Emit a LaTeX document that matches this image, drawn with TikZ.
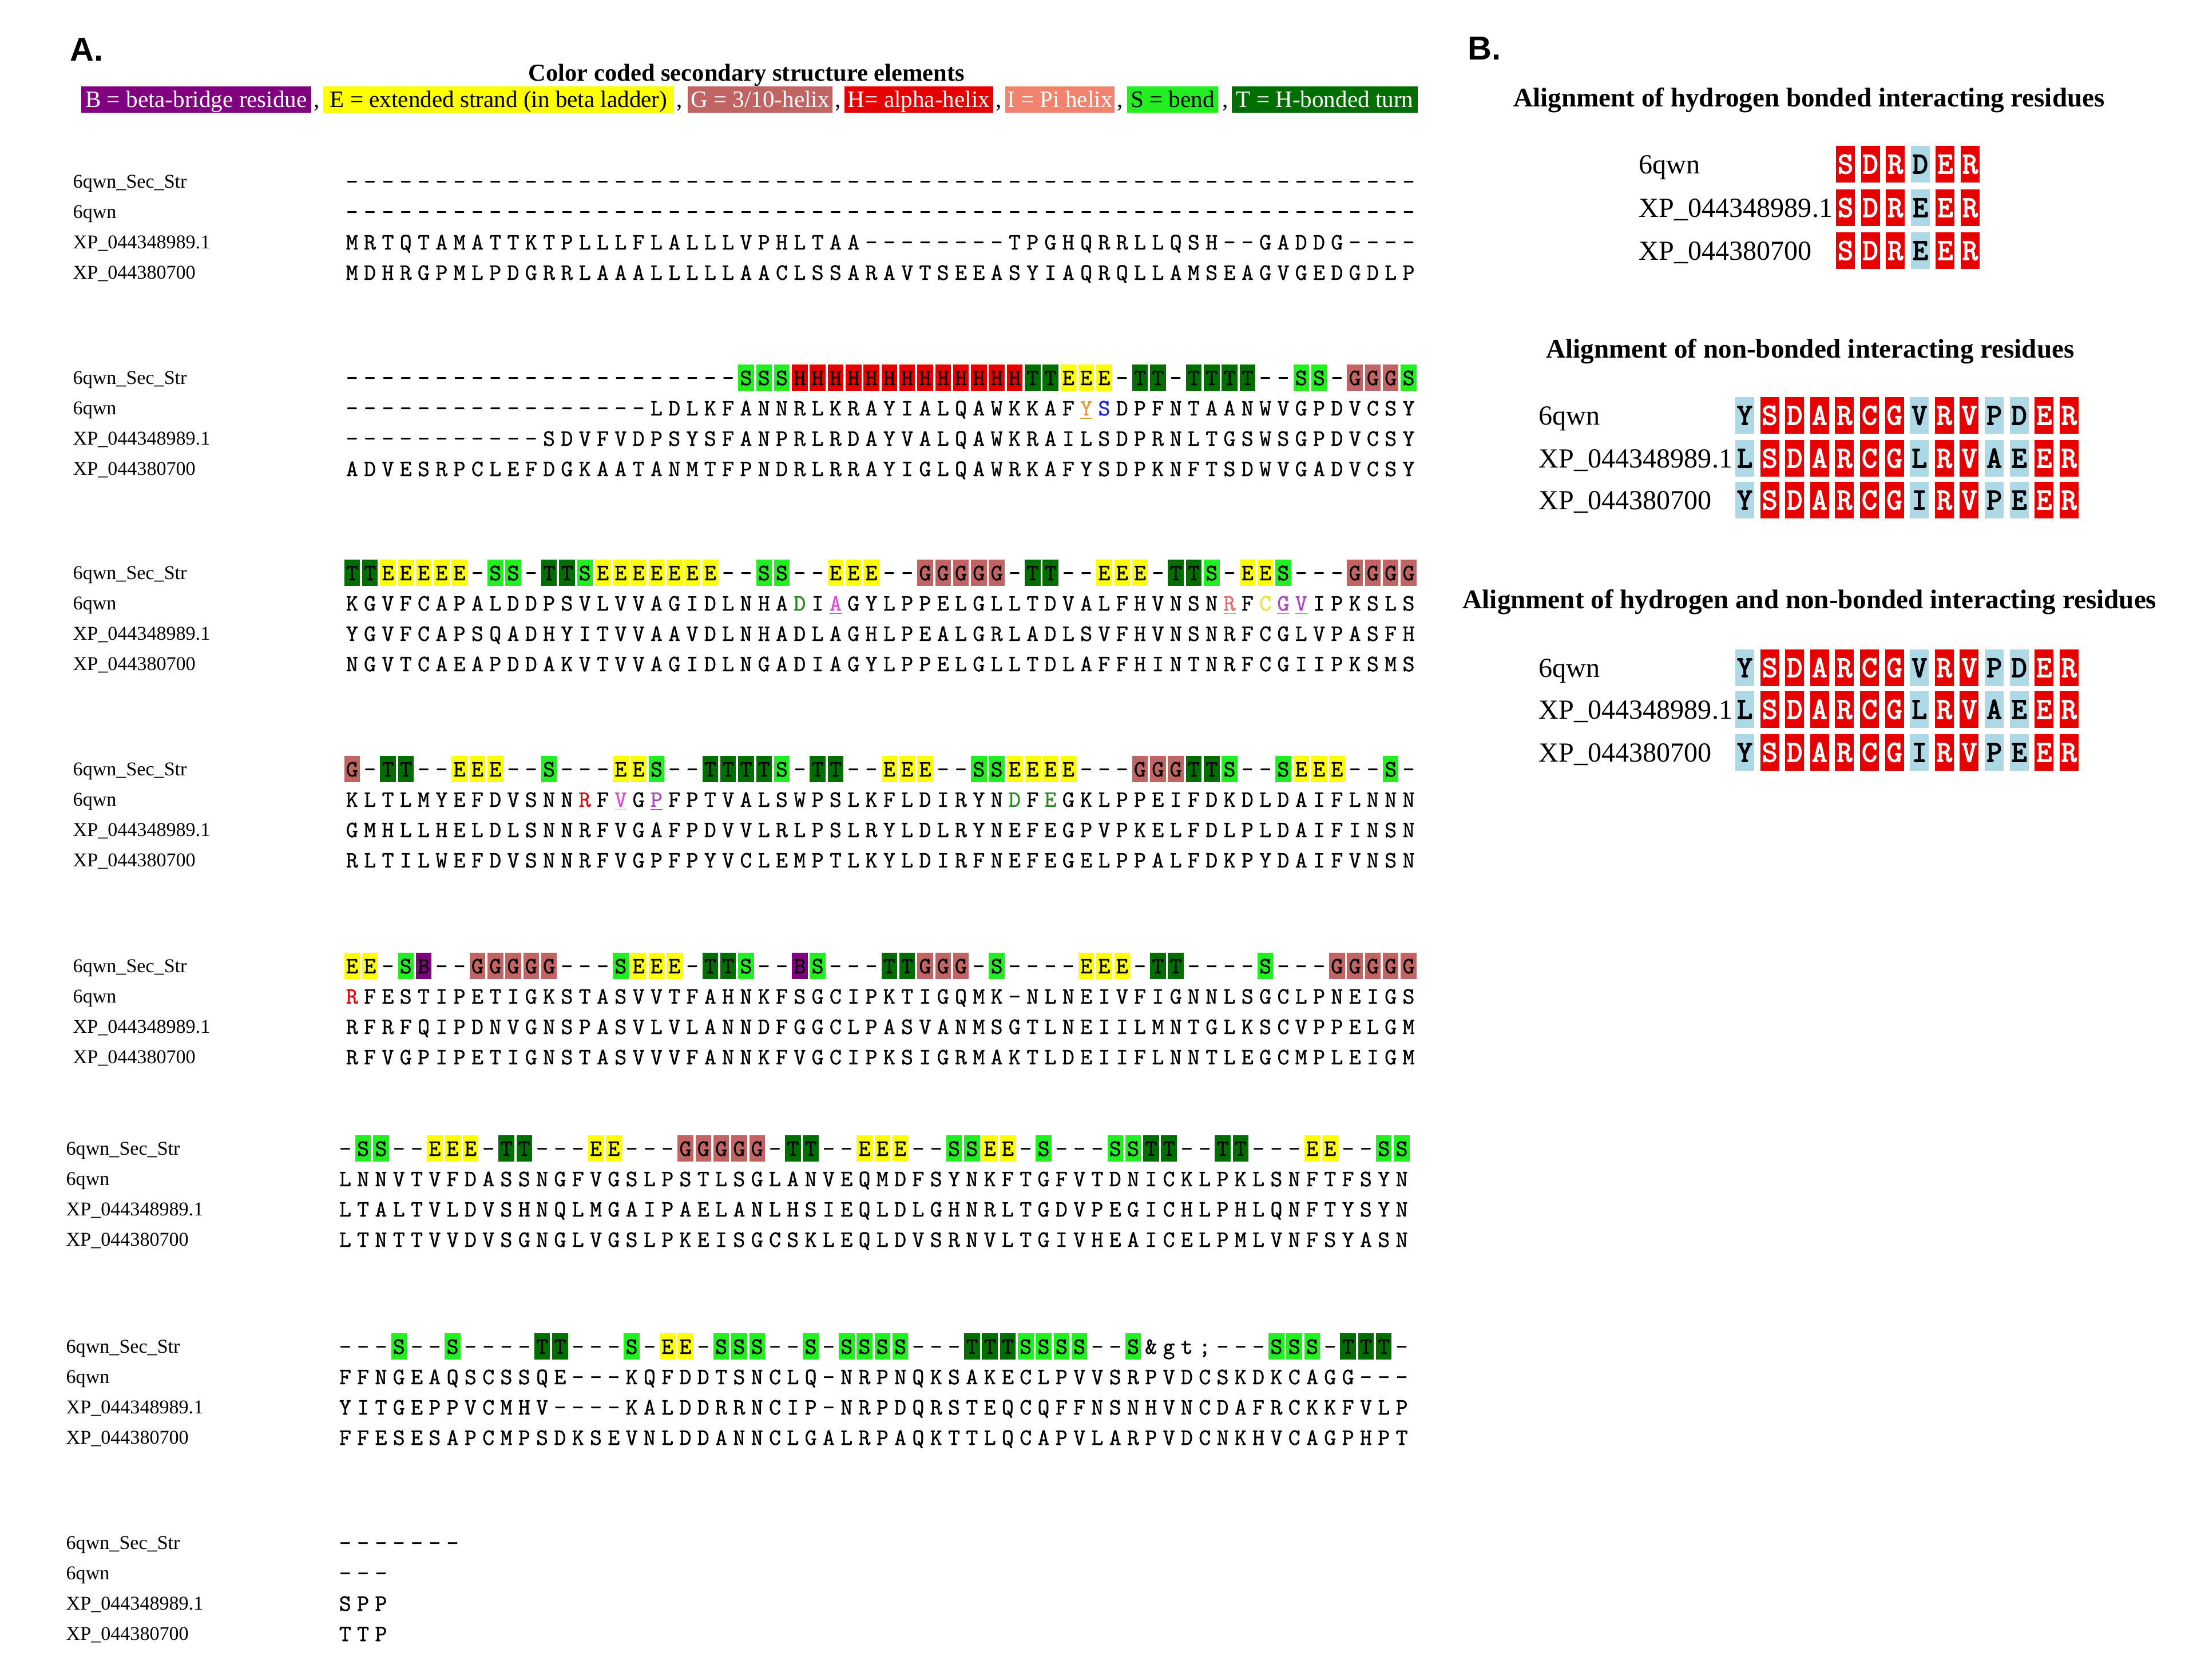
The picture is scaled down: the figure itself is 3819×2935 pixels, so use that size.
\documentclass[tikz,border=0pt]{standalone}
\usepackage{fontspec}
\setmainfont{Liberation Serif}
\newfontfamily\seqfont{Latin Modern Mono}[FakeBold = 1]
\newfontfamily\cellfont{Latin Modern Mono}[FakeBold = 3]
\newfontfamily\panelfont{Liberation Sans}
\usepackage{xcolor}
\usepackage{tikz}
\usetikzlibrary{
		positioning
	}
% secondary structure colours
\definecolor{ss-B}{HTML}{800080}
\definecolor{ss-E}{HTML}{FFFF00}
\definecolor{ss-G}{HTML}{C06464}
\definecolor{ss-H}{HTML}{E60000}
\definecolor{ss-I}{HTML}{F0826E}
\definecolor{ss-S}{HTML}{22EE22}
\definecolor{ss-T}{HTML}{006E00}
% interacting residue colours
\definecolor{cell-red}{HTML}{E60000}
\definecolor{cell-blue}{HTML}{ADD8E6}
\definecolor{res-orange}{HTML}{E39A3B}
\definecolor{res-blue}{HTML}{1F1FCC}
\definecolor{res-pink}{HTML}{E048D8}
\definecolor{res-purple}{HTML}{A848B8}
\definecolor{res-salmon}{HTML}{E06A6A}
\definecolor{res-red}{HTML}{E00000}
\definecolor{res-green}{HTML}{1E8C1E}
\definecolor{res-yellow}{HTML}{E6E632}
\newcommand{\resc}[2]{\textcolor{#1}{#2}}
\newcommand{\rescu}[2]{\textcolor{#1}{\underline{#2}}}
\makeatletter
\newlength{\colw}\setlength{\colw}{3.13mm}
\newlength{\cellw}\setlength{\cellw}{2.75mm}
\newlength{\bpitch}\setlength{\bpitch}{4.36mm}
\newlength{\bcellw}\setlength{\bcellw}{3.3mm}
\@namedef{ss@col@B}{ss-B}
\@namedef{ss@col@E}{ss-E}
\@namedef{ss@col@G}{ss-G}
\@namedef{ss@col@H}{ss-H}
\@namedef{ss@col@I}{ss-I}
\@namedef{ss@col@S}{ss-S}
\@namedef{ss@col@T}{ss-T}
\newcommand{\seqrow}[1]{\@tfor\sq@c:=#1\do{\makebox[\colw]{\sq@c}}}
\newcommand{\ssrow}[1]{\@tfor\sq@c:=#1\do{\ss@cell}}
\def\ss@cell{%
	\ifcsname ss@col@\detokenize\expandafter{\sq@c}\endcsname
		\edef\ss@tmp{\csname ss@col@\sq@c\endcsname}%
		\makebox[\colw]{\textcolor{\ss@tmp}{\rule[-1mm]{\cellw}{4.6mm}}\hspace{-\cellw}\makebox[\cellw]{\sq@c}}%
	\else
		\makebox[\colw]{\sq@c}%
	\fi}
\newcommand{\redcell}[1]{\makebox[\bpitch]{\textcolor{cell-red}{\rule[-1.55mm]{\bcellw}{6.4mm}}\hspace{-\bcellw}\makebox[\bcellw]{\textcolor{white}{#1}}}}
\newcommand{\bluecell}[1]{\makebox[\bpitch]{\textcolor{cell-blue}{\rule[-1.55mm]{\bcellw}{6.4mm}}\hspace{-\bcellw}\makebox[\bcellw]{#1}}}
\newcommand{\rcells}[1]{\@tfor\bc@c:=#1\do{\redcell{\bc@c}}}
\newcommand{\bcells}[1]{\@tfor\bc@c:=#1\do{\bluecell{\bc@c}}}
\makeatother
\tikzset{%
		panellabel/.style = {
			anchor = base west,
			inner sep = 0pt,
			font = \panelfont\bfseries\fontsize{16.5pt}{18pt}\selectfont
		},
		alntitle/.style = {
			anchor = base,
			inner sep = 0pt,
			font = \bfseries\fontsize{12.1pt}{14pt}\selectfont
		},
		legendbox/.style = {
			fill = #1,
			inner sep = 0pt,
			minimum height = 4.6mm,
			text height = 3.1mm,
			text depth = 0.4mm,
			font = \fontsize{11.7pt}{13pt}\selectfont
		},
		legendtxt/.style = {
			anchor = base west,
			inner sep = 0pt,
			font = \fontsize{11.7pt}{13pt}\selectfont
		},
		rowlabel/.style = {
			anchor = base west,
			inner sep = 0pt,
			font = \fontsize{9.7pt}{11pt}\selectfont
		},
		seqline/.style = {
			anchor = base west,
			inner sep = 0pt,
			font = \seqfont\fontsize{11.6pt}{13pt}\selectfont
		},
		btitle/.style = {
			anchor = base,
			inner sep = 0pt,
			font = \bfseries\fontsize{13.4pt}{15pt}\selectfont
		},
		blabel/.style = {
			anchor = base west,
			inner sep = 0pt,
			font = \fontsize{13.7pt}{15pt}\selectfont
		},
		cellrow/.style = {
			anchor = base west,
			inner sep = 0pt,
			font = \cellfont\fontsize{15pt}{17pt}\selectfont
		}
	}
% one block of the alignment: name, top row y, x offset, four rows
\newcommand{\alnblock}[7]{%
	\node [rowlabel] (#1-lab1) at (127+#3, #2+11) {6qwn\_Sec\_Str};
	\node [rowlabel] (#1-lab2) at (127+#3, #2+64) {6qwn};
	\node [rowlabel] (#1-lab3) at (127+#3, #2+117) {XP\_044348989.1};
	\node [rowlabel] (#1-lab4) at (127+#3, #2+170) {XP\_044380700};
	\node [seqline] (#1-ss) at (599+#3, #2+13) {\ssrow{#4}};
	\node [seqline] (#1-pdb) at (599+#3, #2+66) {\seqrow{#5}};
	\node [seqline] (#1-xp1) at (599+#3, #2+119) {\seqrow{#6}};
	\node [seqline] (#1-xp2) at (599+#3, #2+172) {\seqrow{#7}};
}
\begin{document}
\begin{tikzpicture}[x = 0.1mm, y = -0.1mm]
	\useasboundingbox [fill = white] (0, 0) rectangle (3819, 2935);
	% panel A
	\node [panellabel] (lab-A) at (122, 106) {A.};
	\node [alntitle] (leg-title) at (1305, 141) {Color coded secondary structure elements};
	\node [legendbox = ss-B, text = white, minimum width = 40.2mm] (leg-B) at (343, 174) {B = beta-bridge residue};
	\node [legendtxt] (comma-B) at ([xshift = 0.3mm]leg-B.base east) {,};
	\node [legendbox = ss-E, minimum width = 61.3mm] (leg-E) at (871.5, 174) {E = extended strand (in beta ladder)};
	\node [legendtxt] (comma-E) at ([xshift = 0.3mm]leg-E.base east) {,};
	\node [legendbox = ss-G, text = white, minimum width = 25.3mm] (leg-G) at (1328.5, 174) {G = 3/10-helix};
	\node [legendtxt] (comma-G) at ([xshift = 0.3mm]leg-G.base east) {,};
	\node [legendbox = ss-H, text = white, minimum width = 26mm] (leg-H) at (1606, 174) {H= alpha-helix};
	\node [legendtxt] (comma-H) at ([xshift = 0.3mm]leg-H.base east) {,};
	\node [legendbox = ss-I, text = white, minimum width = 19.1mm] (leg-I) at (1852.5, 174) {I = Pi helix};
	\node [legendtxt] (comma-I) at ([xshift = 0.3mm]leg-I.base east) {,};
	\node [legendbox = ss-S, minimum width = 15.9mm] (leg-S) at (2049.5, 174) {S = bend};
	\node [legendtxt] (comma-S) at ([xshift = 0.6mm]leg-S.base east) {,};
	\node [legendbox = ss-T, text = white, minimum width = 32.5mm] (leg-T) at (2315.5, 174) {T = H-bonded turn};

	\alnblock{b1}{317}{0}
		{---------- ---------- ---------- ---------- ---------- ----------}
		{---------- ---------- ---------- ---------- ---------- ----------}
		{MRTQTAMATT KTPLLLFLAL LLVPHLTAA- -------TPG HQRRLLQSH- -GADDG----}
		{MDHRGPMLPD GRRLAAALLL LLAACLSSAR AVTSEEASYI AQRQLLAMSE AGVGEDGDLP}
	\alnblock{b2}{660}{0}
		{---------- ---------- --SSSHHHHH HHHHHHHHTT EEE-TT-TTT T--SS-GGGS}
		{---------- -------LDL KFANNRLKRA YIALQAWKKA F{\rescu{res-orange}{Y}}{\resc{res-blue}{S}}DPFNTAA NWVGPDVCSY}
		{---------- -SDVFVDPSY SFANPRLRDA YVALQAWKRA ILSDPRNLTG SWSGPDVCSY}
		{ADVESRPCLE FDGKAATANM TFPNDRLRRA YIGLQAWRKA FYSDPKNFTS DWVGADVCSY}
	\alnblock{b3}{1001}{0}
		{TTEEEEE-SS -TTSEEEEEE E--SS--EEE --GGGGG-TT --EEE-TTS- EES---GGGG}
		{KGVFCAPALD DPSVLVVAGI DLNHA{\resc{res-green}{D}}I{\rescu{res-pink}{A}}GY LPPELGLLTD VALFHVNSN{\rescu{res-salmon}{R}} F{\resc{res-yellow}{C}}{\rescu{res-purple}{G}}{\rescu{res-purple}{V}}IPKSLS}
		{YGVFCAPSQA DHYITVVAAV DLNHADLAGH LPEALGRLAD LSVFHVNSNR FCGLVPASFH}
		{NGVTCAEAPD DAKVTVVAGI DLNGADIAGY LPPELGLLTD LAFFHINTNR FCGIIPKSMS}
	\alnblock{b4}{1344}{0}
		{G-TT--EEE- -S---EES-- TTTTS-TT-- EEE--SSEEE E---GGGTTS --SEEE--S-}
		{KLTLMYEFDV SNN{\resc{res-red}{R}}F{\rescu{res-pink}{V}}G{\rescu{res-purple}{P}}FP TVALSWPSLK FLDIRYN{\resc{res-green}{D}}F{\resc{res-green}{E}} GKLPPEIFDK DLDAIFLNNN}
		{GMHLLHELDL SNNRFVGAFP DVVLRLPSLR YLDLRYNEFE GPVPKELFDL PLDAIFINSN}
		{RLTILWEFDV SNNRFVGPFP YVCLEMPTLK YLDIRFNEFE GELPPALFDK PYDAIFVNSN}
	\alnblock{b5}{1688}{0}
		{EE-SB--GGG GG---SEEE- TTS--BS--- TTGGG-S--- -EEE-TT--- -S---GGGGG}
		{{\resc{res-red}{R}}FESTIPETI GKSTASVVTF AHNKFSGCIP KTIGQMK-NL NEIVFIGNNL SGCLPNEIGS}
		{RFRFQIPDNV GNSPASVLVL ANNDFGGCLP ASVANMSGTL NEIILMNTGL KSCVPPELGM}
		{RFVGPIPETI GNSTASVVVF ANNKFVGCIP KSIGRMAKTL DEIIFLNNTL EGCMPLEIGM}
	\alnblock{b6}{2007}{-12}
		{-SS--EEE-T T---EE---G GGGG-TT--E EE--SSEE-S ---SSTT--T T---EE--SS}
		{LNNVTVFDAS SNGFVGSLPS TLSGLANVEQ MDFSYNKFTG FVTDNICKLP KLSNFTFSYN}
		{LTALTVLDVS HNQLMGAIPA ELANLHSIEQ LDLGHNRLTG DVPEGICHLP HLQNFTYSYN}
		{LTNTTVVDVS GNGLVGSLPK EISGCSKLEQ LDVSRNVLTG IVHEAICELP MLVNFSYASN}
	\alnblock{b7}{2353}{-12}
		{---S--S--- -TT---S-EE -SSS--S-SS SS---TTTSS SS--S\&gt;- --SSS-TTT-}
		{FFNGEAQSCS SQE---KQFD DTSNCLQ-NR PNQKSAKECL PVVSRPVDCS KDKCAGG---}
		{YITGEPPVCM HV----KALD DRRNCIP-NR PDQRSTEQCQ FFNSNHVNCD AFRCKKFVLP}
		{FFESESAPCM PSDKSEVNLD DANNCLGALR PAQKTTLQCA PVLARPVDCN KHVCAGPHPT}
	\alnblock{b8}{2696}{-12}
		{-------}
		{---}
		{SPP}
		{TTP}

	% panel B
	\node [panellabel] (lab-B) at (2565, 104) {B.};
	\node [btitle] (title-hb) at (3162, 186) {Alignment of hydrogen bonded interacting residues};
	\node [blabel] (hb-lab1) at (2864, 303) {6qwn};
	\node [blabel] (hb-lab2) at (2864, 379) {XP\_044348989.1};
	\node [blabel] (hb-lab3) at (2864, 454) {XP\_044380700};
	\node [cellrow] (hb-row1) at (3203, 303) {\rcells{SDR}\bcells{D}\rcells{ER}};
	\node [cellrow] (hb-row2) at (3203, 379) {\rcells{SDR}\bcells{E}\rcells{ER}};
	\node [cellrow] (hb-row3) at (3203, 454) {\rcells{SDR}\bcells{E}\rcells{ER}};

	\node [btitle] (title-nb) at (3164, 625) {Alignment of non-bonded interacting residues};
	\node [blabel] (nb-lab1) at (2689, 742) {6qwn};
	\node [blabel] (nb-lab2) at (2689, 817) {XP\_044348989.1};
	\node [blabel] (nb-lab3) at (2689, 890) {XP\_044380700};
	\node [cellrow] (nb-row1) at (3027, 742) {\bcells{Y}\rcells{SDARCG}\bcells{V}\rcells{RV}\bcells{PD}\rcells{ER}};
	\node [cellrow] (nb-row2) at (3027, 817) {\bcells{L}\rcells{SDARCG}\bcells{L}\rcells{RV}\bcells{AE}\rcells{ER}};
	\node [cellrow] (nb-row3) at (3027, 890) {\bcells{Y}\rcells{SDARCG}\bcells{I}\rcells{RV}\bcells{PE}\rcells{ER}};

	\node [btitle] (title-all) at (3163, 1063) {Alignment of hydrogen and non-bonded interacting residues};
	\node [blabel] (all-lab1) at (2689, 1183) {6qwn};
	\node [blabel] (all-lab2) at (2689, 1256) {XP\_044348989.1};
	\node [blabel] (all-lab3) at (2689, 1331) {XP\_044380700};
	\node [cellrow] (all-row1) at (3027, 1183) {\bcells{Y}\rcells{SDARCG}\bcells{V}\rcells{RV}\bcells{PD}\rcells{ER}};
	\node [cellrow] (all-row2) at (3027, 1256) {\bcells{L}\rcells{SDARCG}\bcells{L}\rcells{RV}\bcells{AE}\rcells{ER}};
	\node [cellrow] (all-row3) at (3027, 1331) {\bcells{Y}\rcells{SDARCG}\bcells{I}\rcells{RV}\bcells{PE}\rcells{ER}};
\end{tikzpicture}
\end{document}
